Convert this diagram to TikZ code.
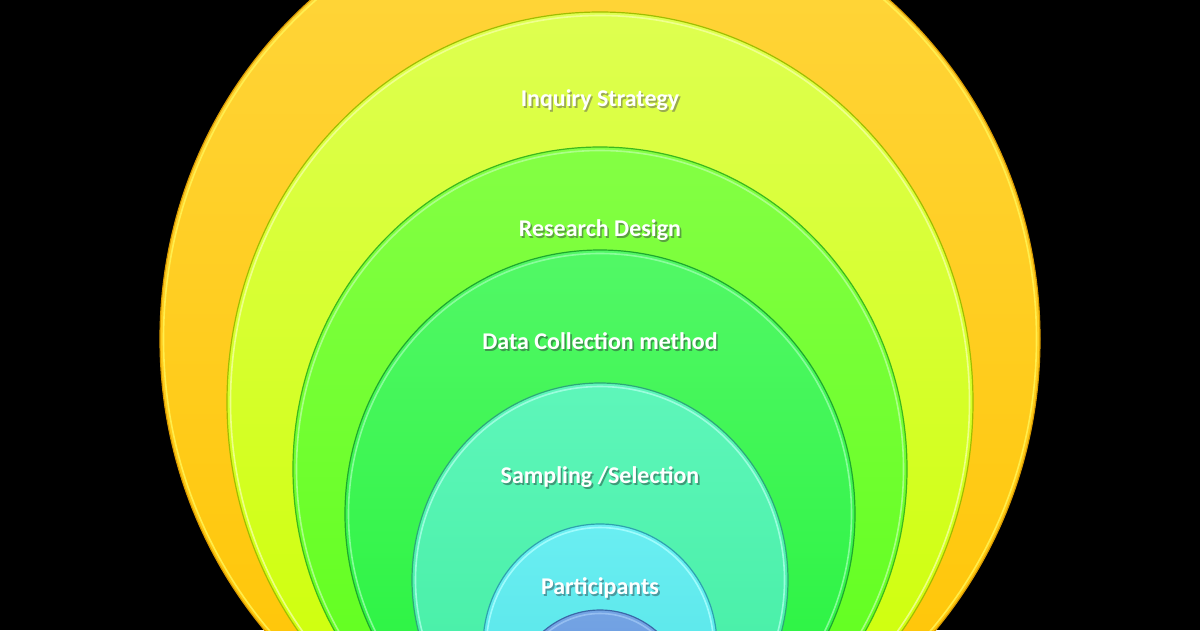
\documentclass[tikz,border=0pt]{standalone}
\usepackage{fontspec}
\setmainfont{Carlito}
\begin{document}
\begin{tikzpicture}[x=1pt,y=-1pt,
  lbl/.style={font=\bfseries\fontsize{24}{28}\selectfont, text=white, inner sep=0pt}]
\useasboundingbox (0,0) rectangle (1200,630);
\fill[black] (0,0) rectangle (1200,630);
\clip (0,0) rectangle (1200,630);
\def\ring#1#2#3#4#5#6#7{%
  \shade[top color=#4, bottom color=#5] (600,#1) ellipse [x radius=#2pt, y radius=#3pt];
  \draw[#6, line width=1.2pt] (600,#1) ellipse [x radius=#2pt, y radius=#3pt];
  \draw[#7, line width=1.6pt, opacity=0.85] (600,#1) ellipse [x radius=#2pt-3.5pt, y radius=#3pt-3.5pt];
}
\newcommand\shtext[2]{\makebox[0pt][l]{\kern1.6pt\raisebox{-1.8pt}{\color{#1}#2}}#2}
\definecolor{oT}{HTML}{FFD63E}\definecolor{oB}{HTML}{FFC400}\definecolor{oL}{HTML}{D99A00}\definecolor{oH}{HTML}{FFF455}
\definecolor{yT}{HTML}{DEFF50}\definecolor{yB}{HTML}{CCFF00}\definecolor{yL}{HTML}{A0BE00}\definecolor{yH}{HTML}{F2FF9A}
\definecolor{lT}{HTML}{84FF44}\definecolor{lB}{HTML}{5AFF18}\definecolor{lL}{HTML}{3CB81C}\definecolor{lH}{HTML}{B4FF96}
\definecolor{dT}{HTML}{52F866}\definecolor{dB}{HTML}{22F23A}\definecolor{dL}{HTML}{1EA82E}\definecolor{dH}{HTML}{94FFA6}
\definecolor{sT}{HTML}{5EF6BA}\definecolor{sB}{HTML}{40EDA0}\definecolor{sL}{HTML}{2CA878}\definecolor{sH}{HTML}{A6FFE4}
\definecolor{pT}{HTML}{6AEEF2}\definecolor{pB}{HTML}{50E2E4}\definecolor{pL}{HTML}{2EA2AE}\definecolor{pH}{HTML}{A8FFFF}
\definecolor{iT}{HTML}{74A4E4}\definecolor{iB}{HTML}{5A8AD6}\definecolor{iL}{HTML}{3C68A8}\definecolor{iH}{HTML}{9CC4F4}
\definecolor{shY}{HTML}{9AAA50}\definecolor{shL}{HTML}{5AA040}\definecolor{shD}{HTML}{3A9A4A}
\definecolor{shS}{HTML}{3E9A78}\definecolor{shP}{HTML}{4A9AA0}
\ring{339}{440}{450}{oT}{oB}{oL}{oH}
\ring{402}{373}{390}{yT}{yB}{yL}{yH}
\ring{469}{307}{322}{lT}{lB}{lL}{lH}
\ring{514}{255}{264}{dT}{dB}{dL}{dH}
\ring{580}{188}{197}{sT}{sB}{sL}{sH}
\ring{646}{117}{122}{pT}{pB}{pL}{pH}
\ring{701}{88}{91}{iT}{iB}{iL}{iH}
\node[lbl] (inquiry) at (600,101) {\shtext{shY}{Inquiry Strategy}};
\node[lbl] (design) at (600,231) {\shtext{shL}{Research Design}};
\node[lbl] (collection) at (600,342) {\shtext{shD}{Data Collection method}};
\node[lbl] (sampling) at (600,478) {\shtext{shS}{Sampling /Selection}};
\node[lbl] (participants) at (600,589) {\shtext{shP}{Participants}};
\end{tikzpicture}
\end{document}
